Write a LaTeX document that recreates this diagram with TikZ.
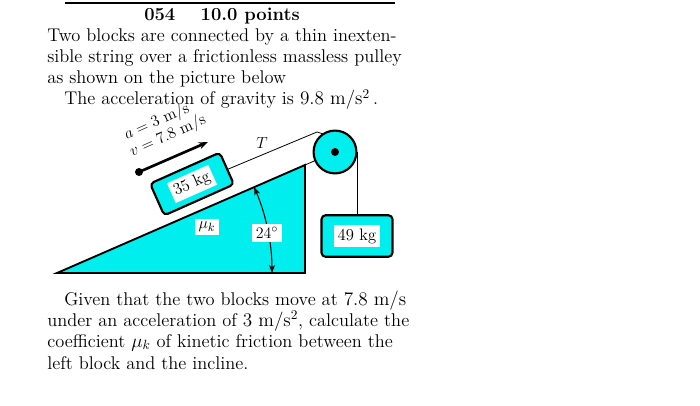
\documentclass[tikz,border=0pt]{standalone}
\usetikzlibrary{arrows.meta}
\definecolor{cy}{RGB}{0,238,238}
\begin{document}
\begin{tikzpicture}[x=0.75pt,y=-0.75pt,
  txt/.style={anchor=base west,inner sep=0pt,font=\fontsize{13.8}{16}\selectfont},
  blk/.style={draw,line width=1.6pt,fill=cy,rounded corners=3pt},
  lbl/.style={fill=white,inner sep=2.5pt,font=\fontsize{12.5}{14}\selectfont}]
\useasboundingbox (0,0) rectangle (700,406);
\draw[line width=0.8pt] (65,3) coordinate(r1) -- (395,3) coordinate(r2);
\node[txt,anchor=base,font=\fontsize{13.8}{16}\selectfont\bfseries] (h) at (222,21) {054\quad\ 10.0 points};
\node[txt] (l1) at (47,42) {Two blocks are connected by a thin inexten-};
\node[txt] (l2) at (47,63) {sible string over a frictionless massless pulley};
\node[txt] (l3) at (47,84) {as shown on the picture below};
\node[txt] (l4) at (64,105) {The acceleration of gravity is $9.8~\mathrm{m/s^2}$\,.};
\node[txt] (b1) at (64,305) {Given that the two blocks move at $7.8~\mathrm{m/s}$};
\node[txt] (b2) at (47,326) {under an acceleration of $3~\mathrm{m/s^2}$, calculate the};
\node[txt] (b3) at (47,347) {coefficient $\mu_k$ of kinetic friction between the};
\node[txt] (b4) at (47,369) {left block and the incline.};
% incline
\draw[blk,rounded corners=0pt,line width=1.4pt] (57,273) coordinate(A) -- (305,273) coordinate(B) -- (305,165) coordinate(C) -- cycle;
% pulley
\coordinate (P) at (335,152);
\draw[line width=0.6pt] (C) -- (P);
\draw[line width=0.6pt] (226,170) coordinate(s1) -- (317,132) coordinate(s2) arc[start angle=114,end angle=90,radius=22];
\draw[line width=0.6pt] (357,152) coordinate(h1) -- (357,216) coordinate(h2);
\node[circle,draw,line width=1.6pt,fill=cy,minimum size=32bp] (pul) at (P) {};
\fill (P) circle (4);
% block 35
\node[blk,rotate=24,minimum width=57bp,minimum height=26bp] (m1) at (192,184) {};
\node[lbl,rotate=24] (m1l) at (m1) {35 kg};
% block 49
\node[blk,minimum width=53bp,minimum height=31bp] (m2) at (357,236) {};
\node[lbl] (m2l) at (m2) {49 kg};
% arrow
\fill (139,172) coordinate(d1) circle (4);
\draw[line width=2pt,-{Stealth[length=7pt]}] (d1) -- (208,142) coordinate(d2);
\node[rotate=24,inner sep=0pt,font=\fontsize{12}{13}\selectfont] (vl) at (168,136) {$v=7.8~\mathrm{m/s}$};
\node[rotate=24,inner sep=0pt,font=\fontsize{12}{13}\selectfont] (al) at (157,122) {$a=3~\mathrm{m/s}$};
\node[font=\fontsize{12}{13}\selectfont,inner sep=0pt] (T) at (262,143) {$T$};
% angle
\draw[line width=0.8pt,{Stealth[length=6pt]}-{Stealth[length=6pt]}] (272,273) arc[start angle=0,end angle=-23.5,radius=215];
\node[lbl] (mu) at (207,227) {$\mu_k$};
\node[lbl] (ang) at (267,233) {$24^\circ$};
\end{tikzpicture}
\end{document}
